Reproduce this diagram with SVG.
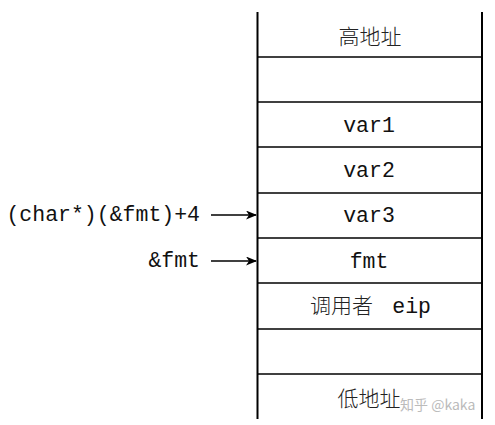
<svg xmlns="http://www.w3.org/2000/svg" width="495" height="425" viewBox="0 0 495 425">
<style>
.mono{font-family:"Liberation Mono","Courier New",monospace;font-size:21.5px;fill:#111}
.cjk{font-family:"Noto Sans CJK SC","Noto Sans",sans-serif;font-size:21px;fill:#222;font-weight:300}
.ln{stroke:#000;stroke-width:1.5}
.edge{stroke:#000;stroke-width:2}
.arr{stroke:#000;stroke-width:1.3;fill:none}
</style>
<defs>
<marker id="ah" markerWidth="11" markerHeight="9" refX="10" refY="4.5" orient="auto" markerUnits="userSpaceOnUse">
<path d="M0,0 L11,4.5 L0,9 L3,4.5 Z" fill="#000"/>
</marker>
</defs>
<rect width="495" height="425" fill="#fff"/>
<g id="stack">
<line class="edge" x1="257.5" y1="12" x2="257.5" y2="419"/>
<line class="edge" x1="482" y1="12" x2="482" y2="419"/>
<line class="ln" x1="257" y1="57" x2="482" y2="57"/>
<line class="ln" x1="257" y1="102" x2="482" y2="102"/>
<line class="ln" x1="257" y1="147" x2="482" y2="147"/>
<line class="ln" x1="257" y1="193" x2="482" y2="193"/>
<line class="ln" x1="257" y1="238" x2="482" y2="238"/>
<line class="ln" x1="257" y1="283" x2="482" y2="283"/>
<line class="ln" x1="257" y1="329" x2="482" y2="329"/>
<line class="ln" x1="257" y1="374" x2="482" y2="374"/>
</g>
<g id="cell-high"><text class="cjk" x="370" y="44" text-anchor="middle">高地址</text></g>
<g id="cell-var1"><text class="mono" x="369" y="132" text-anchor="middle">var1</text></g>
<g id="cell-var2"><text class="mono" x="369" y="177" text-anchor="middle">var2</text></g>
<g id="cell-var3"><text class="mono" x="369" y="222" text-anchor="middle">var3</text></g>
<g id="cell-fmt"><text class="mono" x="369" y="268" text-anchor="middle">fmt</text></g>
<g id="cell-eip"><text class="cjk" x="310" y="313">调用者</text><text class="mono" x="431" y="313" text-anchor="end">eip</text></g>
<g id="cell-low"><text class="cjk" x="369" y="406" text-anchor="middle">低地址</text></g>
<g id="label-charptr"><text class="mono" x="200" y="221" text-anchor="end">(char*)(&amp;fmt)+4</text></g>
<g id="label-fmt"><text class="mono" x="200" y="267" text-anchor="end">&amp;fmt</text></g>
<g id="connectors">
<line class="arr" x1="211" y1="215" x2="256" y2="215" marker-end="url(#ah)"/>
<line class="arr" x1="211" y1="261" x2="256" y2="261" marker-end="url(#ah)"/>
</g>
<text x="400" y="410" font-family="Noto Sans CJK SC,Noto Sans,sans-serif" font-size="14" fill="#bbb">知乎 @kaka</text>
</svg>
